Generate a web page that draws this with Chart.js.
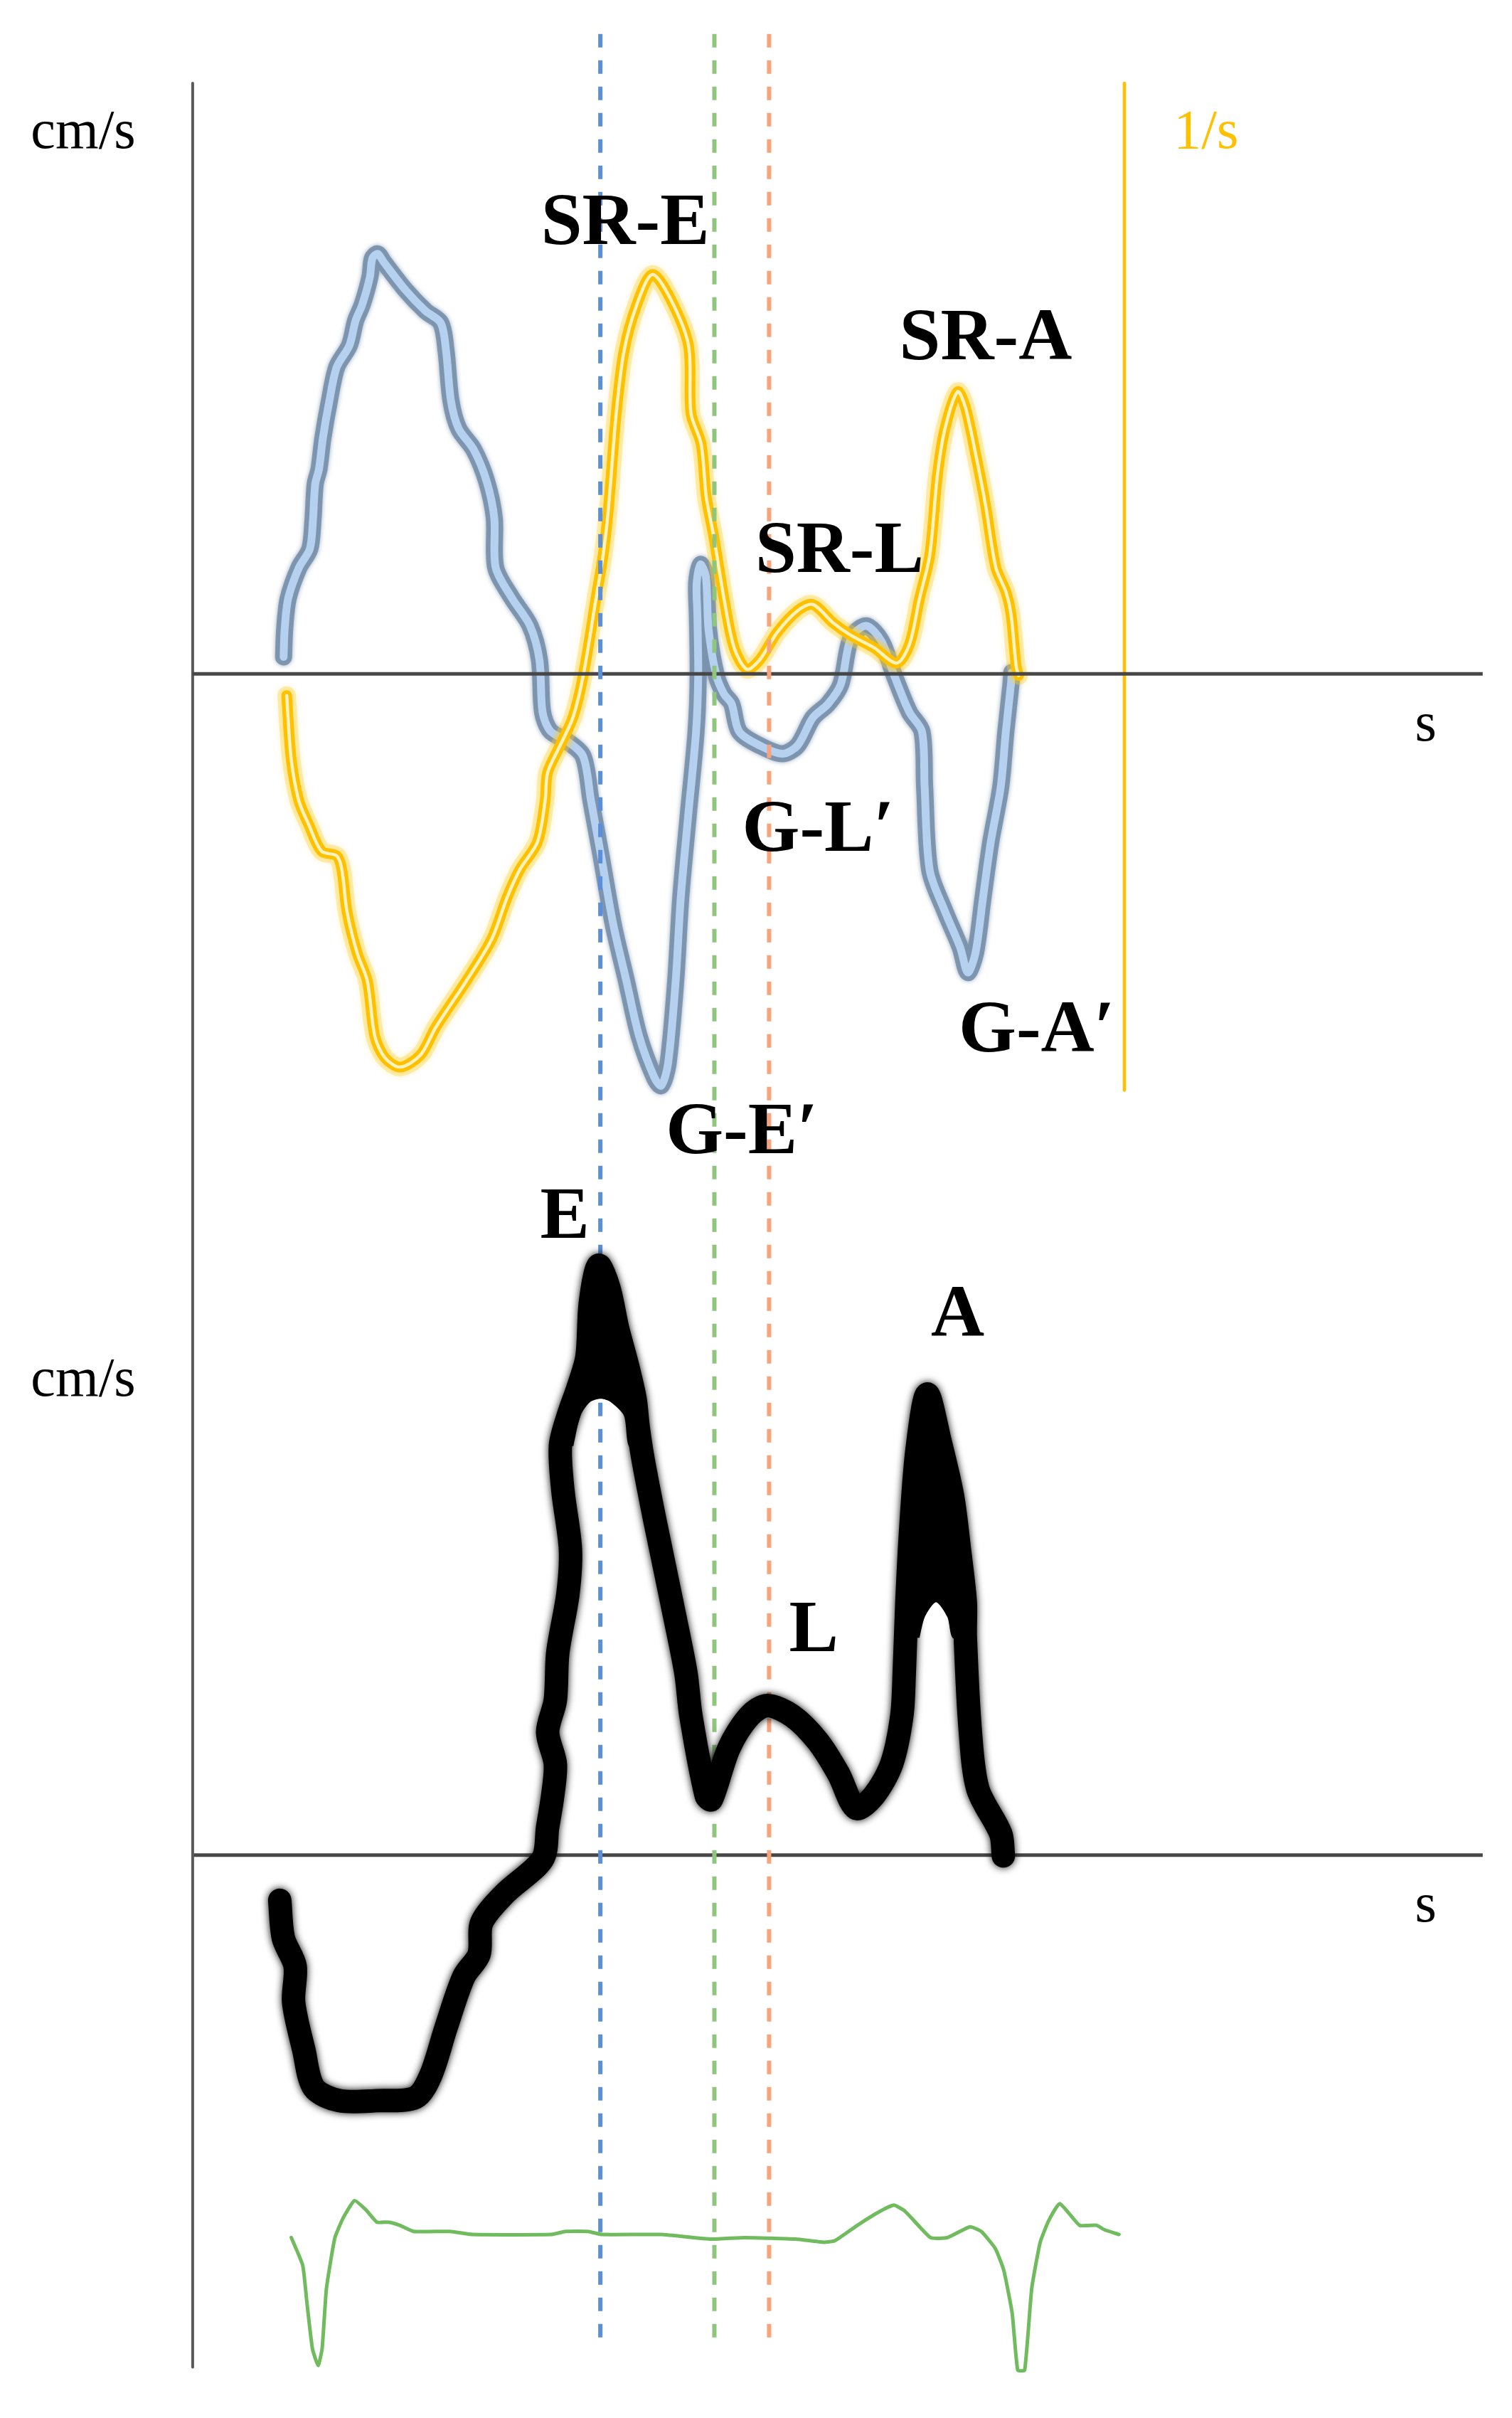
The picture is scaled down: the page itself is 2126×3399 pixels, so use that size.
<!DOCTYPE html>
<html>
<head>
<meta charset="utf-8">
<script src="https://cdn.jsdelivr.net/npm/chart.js@4.4.1/dist/chart.umd.min.js"></script>
<style>
html,body{margin:0;padding:0;background:#fff;}
#wrap{width:2126px;height:3399px;position:relative;}
canvas{display:block;}
</style>
</head>
<body>
<div id="wrap"><canvas id="c"></canvas></div>
<script>
// ---------------- DATA (time in ms from the axis origin) ----------------
// Tissue velocity (cm/s) - blue trace, top panel
const tissueTime = [118,119.4,124,138,152,156,159,164,169,177.4,187,203.4,211.4,220,230,233.2,240,248,276,302,322,328.8,335.2,345.2,364.8,381.4,391.4,393.2,414,437.6,450,454,464,487,506.8,516.8,530,546,562.8,579.4,599.2,608,616.8,626.8,633.4,643.2,653.2,656,655,654,659,666,669.4,679.4,689.4,699.4,709.2,735.6,765.2,785,804.8,824.6,841,854.2,874,893.8,910.2,930,946.4,949.8,956.4,976.2,996,1005.8,1015.8,1025.6,1035.6,1048.6,1055.2,1061.8,1063];
const tissueVel = [0.55,1.45,2.45,3.45,4.05,4.95,6.15,6.65,7.65,8.85,9.95,10.65,11.45,11.97,12.87,13.47,13.62,13.35,12.45,11.77,11.38,10.48,8.85,7.95,7.27,6.25,5.05,3.45,2.47,1.57,0.45,-1.23,-1.85,-2.2,-2.68,-4.1,-5.9,-8.15,-9.95,-11.75,-13.09,-13.35,-12.65,-9.95,-7.25,-4.55,-1.88,-0.07,1.85,2.95,3.55,3.15,1.45,-0.04,-0.65,-0.97,-1.87,-2.32,-2.59,-2.32,-1.42,-0.97,-0.34,1.16,1.56,1.06,-0.04,-1.24,-1.87,-3.66,-6.36,-7.7,-8.87,-9.68,-9.05,-7.25,-5.46,-3.66,-1.87,-0.34,0.05];

// Strain rate (1/s) - yellow trace, top panel
const srTime = [122,127.8,137.6,150.8,167.2,187,193.6,200.2,213.4,226.6,236.4,249.6,269.4,295.8,315.6,355.2,388,408,424.4,447.4,457.4,460.6,477.2,493.6,506.8,523.4,533.2,539.8,549.6,559.6,576,596.4,620.2,643.4,646.6,659.8,666.4,676.2,689.4,702.6,719,735.6,758.6,785,804.8,831.2,854.2,884,913.6,930,943.2,956.4,966.4,976.2,992.6,1002.6,1015.8,1029,1042.2,1055.4,1061.8,1068.6,1071.8];
const srVal = [-0.14,-0.55,-0.82,-0.98,-1.15,-1.18,-1.27,-1.54,-1.81,-1.99,-2.35,-2.49,-2.55,-2.47,-2.29,-1.99,-1.72,-1.45,-1.27,-1.09,-0.82,-0.64,-0.46,-0.28,-0.01,0.49,0.79,1.09,1.69,2.09,2.39,2.59,2.43,2.13,1.69,1.49,1.15,0.89,0.49,0.17,0.03,0.09,0.27,0.41,0.45,0.33,0.25,0.17,0.07,0.19,0.49,0.77,1.29,1.59,1.83,1.73,1.43,1.09,0.69,0.53,0.39,0.05,-0.01];

// Transmitral inflow velocity (cm/s) - black trace, bottom panel
const inflowTime = [113,117.8,133,131,144.2,157.4,190.4,239.8,289.2,309,328.8,351.8,371.6,375,404.6,454,460.6,467.2,470.6,460.6,470.6,473.8,487,490.2,480.4,477.2,487,500,511.6,516,526.6,540,551.2,564,574,578,584,595.8,603.6,623.4,640,646.6,666.4,673,696,722.4,745.4,778.4,811.4,837.8,860.8,884,907,920.2,923.4,926.8,932,940,953.2,970,986,995,1002.6,1002.6,1009.2,1019,1048.6,1052];
const inflowVel = [-5.86,-10.8,-14.4,-19.06,-25.24,-30.18,-31.84,-31.84,-31.42,-28.54,-22.36,-15.76,-12.88,-8.76,-5.04,-0.52,3.6,7.72,11.84,15.96,20.08,26.26,33.92,39.66,47.32,53.06,56.88,60.6,64.6,71.6,76.5,73.6,68.4,63.6,59.2,55.6,51.6,45.4,41.58,32,23.66,18.04,7.72,7.2,13.9,18.04,19.4,18.04,14.74,10.6,6.08,7.72,11.84,18.04,23.66,32.76,42.6,52.6,59.8,53.6,46.6,39.6,32.76,28.34,15.96,8.54,2.78,-0.1];
// dense (filled) envelope at the E and A peaks: outline up, over the peak, down, back along the inner arch
const ePeakTime = [477.2,487,500,511.6,516,526.6,540,551.2,564,574,577,580,566,559.6,542,530,516,503.2,494];
const ePeakVel  = [53.06,56.88,60.6,64.6,71.6,76.5,73.6,68.4,63.6,59.2,57,53.06,53.06,57,58.8,59.2,58.8,57,53.06];
const aPeakTime = [925,926.8,932,940,953.2,970,986,995,1002.6,1002.6,986,979.4,964.6,950,943.2];
const aPeakVel  = [28.2,32.76,42.6,52.6,59.8,53.6,46.6,39.6,32.76,28.2,28.2,30.86,32.8,30.86,28.2];

// ECG (mV)
const ecgTime = [128,142.8,148,155.4,162.8,168,173.6,184.6,195.6,210,224.8,239.2,254,268.6,286.8,334,363.4,465.2,483.8,512.8,531,607.8,673,716.8,782.4,818.8,833.4,862.6,891.8,910,924.6,957.4,979.4,1008.6,1023.2,1041.4,1052.4,1063.4,1070.6,1079.6,1088.8,1099.8,1110.8,1125.2,1150.8,1172.6,1183.6,1202];
const ecgMv = [-0.03,-0.21,-0.44,-0.75,-0.86,-0.75,-0.36,-0.03,0.10,0.21,0.15,0.07,0.07,0.05,0.01,0.01,-0.01,-0.01,0.01,0.01,-0.01,-0.01,-0.04,-0.03,-0.04,-0.06,-0.05,0.05,0.14,0.18,0.14,-0.03,-0.03,0.04,0.01,-0.10,-0.24,-0.52,-0.89,-0.89,-0.36,-0.06,0.08,0.19,0.05,0.05,0.02,-0.01];

// Event markers (ms)
const eventNames = ['E peak','G-E′','L peak'];
const eventTimes = [529, 677, 748];
const eventColors = ['#5b8fd9','#8dc67c','#f6a47c'];

// Annotations
const labelText  = ['cm/s','1/s','s','SR-E','SR-L','SR-A','G-L′','G-A′','G-E′','cm/s','s','E','L','A'];
const labelAxis  = ['yv','ysr','yv','ysr','ysr','ysr','yv','yv','yv','yb','yb','yb','yb','yb'];
const labelTime  = [-210,1273,1586,452,730,917,713,994,614,-210,1586,451,774,958];
const labelValue = [17.05,3.41,-2.15,2.79,0.66,2.04,-5.73,-12.23,-15.55,59.6,-8.6,80.1,26.5,67.3];
const labelKind  = ['unit','unitSR','unit','peak','peak','peak','peak','peak','peak','unit','unit','peak','peak','peak'];

// ---------------- LAYOUT (reference figure units, 1568 tall) ----------------
const FIG_H = 1568, FIG_W = 981, ORIGIN_X = 125, MS_PER_UNIT = 2;
const TOP_BASE = 437, TOP_VEL_UNIT = 20, TOP_SR_UNIT = 100;
const BOT_BASE = 1203, BOT_VEL_UNIT = 5;
const ECG_BASE = 1448, ECG_UNIT = 100;
const AXIS_END_T = 1674, AXIS_TOP = 54, AXIS_BOTTOM = 1535;
const SR_AXIS_T = 1209, SR_AXIS_BOTTOM = 707;
const EVENT_TOP = 22, EVENT_BOTTOM = 1518;

const pts = (ts, vs) => ts.map((t, i) => ({x: t, y: vs[i]}));
const seg = (x0, y0, x1, y1) => [{x: x0, y: y0}, {x: x1, y: y1}];
const range = (base, unit) => ({max: base / unit, min: (base - FIG_H) / unit});

const LINE = {type: 'line', pointRadius: 0, pointHoverRadius: 0, fill: false, borderCapStyle: 'round', borderJoinStyle: 'round', xAxisID: 'x'};

const datasets = [];
// tissue velocity
datasets.push({...LINE, data: pts(tissueTime, tissueVel), yAxisID: 'yv', tension: 0.3, borderColor: 'rgba(122,145,172,0.92)', borderWidth: 24, order: 100, blur: 6, blurColor: 'rgba(122,145,172,0.8)'});
datasets.push({...LINE, data: pts(tissueTime, tissueVel), yAxisID: 'yv', tension: 0.3, borderColor: '#b6d0f0', borderWidth: 11, order: 99});
// strain rate
datasets.push({...LINE, data: pts(srTime, srVal), yAxisID: 'ysr', tension: 0.3, borderColor: 'rgba(255,205,40,0.35)', borderWidth: 26, order: 98, blur: 8, blurColor: 'rgba(255,200,0,0.5)'});
datasets.push({...LINE, data: pts(srTime, srVal), yAxisID: 'ysr', tension: 0.3, borderColor: '#ffc000', borderWidth: 15, order: 97});
datasets.push({...LINE, data: pts(srTime, srVal), yAxisID: 'ysr', tension: 0.3, borderColor: '#fff3bd', borderWidth: 4.5, order: 96});
// axes
datasets.push({...LINE, data: seg(0, 0, AXIS_END_T, 0), yAxisID: 'yv', borderColor: '#474747', borderWidth: 5, borderCapStyle: 'butt', order: 95});
datasets.push({...LINE, data: seg(0, AXIS_TOP, 0, AXIS_BOTTOM), yAxisID: 'yf', borderColor: '#5a5a5a', borderWidth: 4, borderCapStyle: 'butt', order: 95});
datasets.push({...LINE, data: seg(SR_AXIS_T, AXIS_TOP, SR_AXIS_T, SR_AXIS_BOTTOM), yAxisID: 'yf', borderColor: '#ffc000', borderWidth: 4.5, borderCapStyle: 'butt', order: 95});
datasets.push({...LINE, data: seg(0, 0, AXIS_END_T, 0), yAxisID: 'yb', borderColor: '#474747', borderWidth: 5, borderCapStyle: 'butt', order: 95});
// event markers
eventTimes.forEach((t, i) => {
  datasets.push({...LINE, label: eventNames[i], data: seg(t, EVENT_TOP, t, EVENT_BOTTOM), yAxisID: 'yf', borderColor: eventColors[i], borderWidth: 6, borderDash: [19, 18], borderCapStyle: 'butt', order: 94});
});
// inflow
datasets.push({...LINE, data: pts(inflowTime, inflowVel), yAxisID: 'yb', tension: 0.3, borderColor: '#000', borderWidth: 33, order: 90, blur: 11, blurColor: 'rgba(0,0,0,0.95)'});
datasets.push({...LINE, data: pts(ePeakTime, ePeakVel), yAxisID: 'yb', tension: 0.25, borderWidth: 0, borderColor: 'rgba(0,0,0,0)', backgroundColor: '#000', fill: 'shape', order: 89});
datasets.push({...LINE, data: pts(aPeakTime, aPeakVel), yAxisID: 'yb', tension: 0.25, borderWidth: 0, borderColor: 'rgba(0,0,0,0)', backgroundColor: '#000', fill: 'shape', order: 88});
// ECG
datasets.push({...LINE, data: pts(ecgTime, ecgMv), yAxisID: 'ye', tension: 0.15, borderColor: '#6fbb5e', borderWidth: 5, order: 80});

const shadowPlugin = {
  id: 'softEdges',
  beforeDatasetDraw(chart, args) {
    const ds = chart.data.datasets[args.index];
    if (ds.blur) { const c = chart.ctx; c.save(); c.shadowColor = ds.blurColor; c.shadowBlur = ds.blur; }
  },
  afterDatasetDraw(chart, args) {
    const ds = chart.data.datasets[args.index];
    if (ds.blur) chart.ctx.restore();
  }
};

const FONTS = {
  peak: {font: 'bold 104px "Liberation Serif"', color: '#000'},
  unit: {font: '78px "Liberation Serif"', color: '#000'},
  unitSR: {font: '78px "Liberation Serif"', color: '#ffc000'}
};
const textPlugin = {
  id: 'annotations',
  afterDatasetsDraw(chart) {
    const ctx = chart.ctx, xs = chart.scales.x;
    labelText.forEach((txt, i) => {
      const st = FONTS[labelKind[i]];
      ctx.save();
      ctx.font = st.font; ctx.fillStyle = st.color; ctx.textBaseline = 'alphabetic'; ctx.textAlign = 'left';
      ctx.fillText(txt, xs.getPixelForValue(labelTime[i]), chart.scales[labelAxis[i]].getPixelForValue(labelValue[i]));
      ctx.restore();
    });
  }
};

const hidden = {display: false, grid: {display: false}, ticks: {display: false}, bounds: 'data', grace: 0};
new Chart(document.getElementById('c'), {
  type: 'line',
  data: {datasets},
  options: {
    responsive: true, maintainAspectRatio: false, animation: false, devicePixelRatio: 1,
    layout: {padding: 0},
    plugins: {legend: {display: false}, tooltip: {enabled: false}},
    events: [],
    scales: {
      x: {...hidden, type: 'linear', min: -ORIGIN_X * MS_PER_UNIT, max: (FIG_W - ORIGIN_X) * MS_PER_UNIT},
      yv: {...hidden, type: 'linear', ...range(TOP_BASE, TOP_VEL_UNIT)},
      ysr: {...hidden, type: 'linear', ...range(TOP_BASE, TOP_SR_UNIT)},
      yb: {...hidden, type: 'linear', ...range(BOT_BASE, BOT_VEL_UNIT)},
      ye: {...hidden, type: 'linear', ...range(ECG_BASE, ECG_UNIT)},
      yf: {...hidden, type: 'linear', min: 0, max: FIG_H, reverse: true}
    }
  },
  plugins: [shadowPlugin, textPlugin]
});
</script>
</body>
</html>
